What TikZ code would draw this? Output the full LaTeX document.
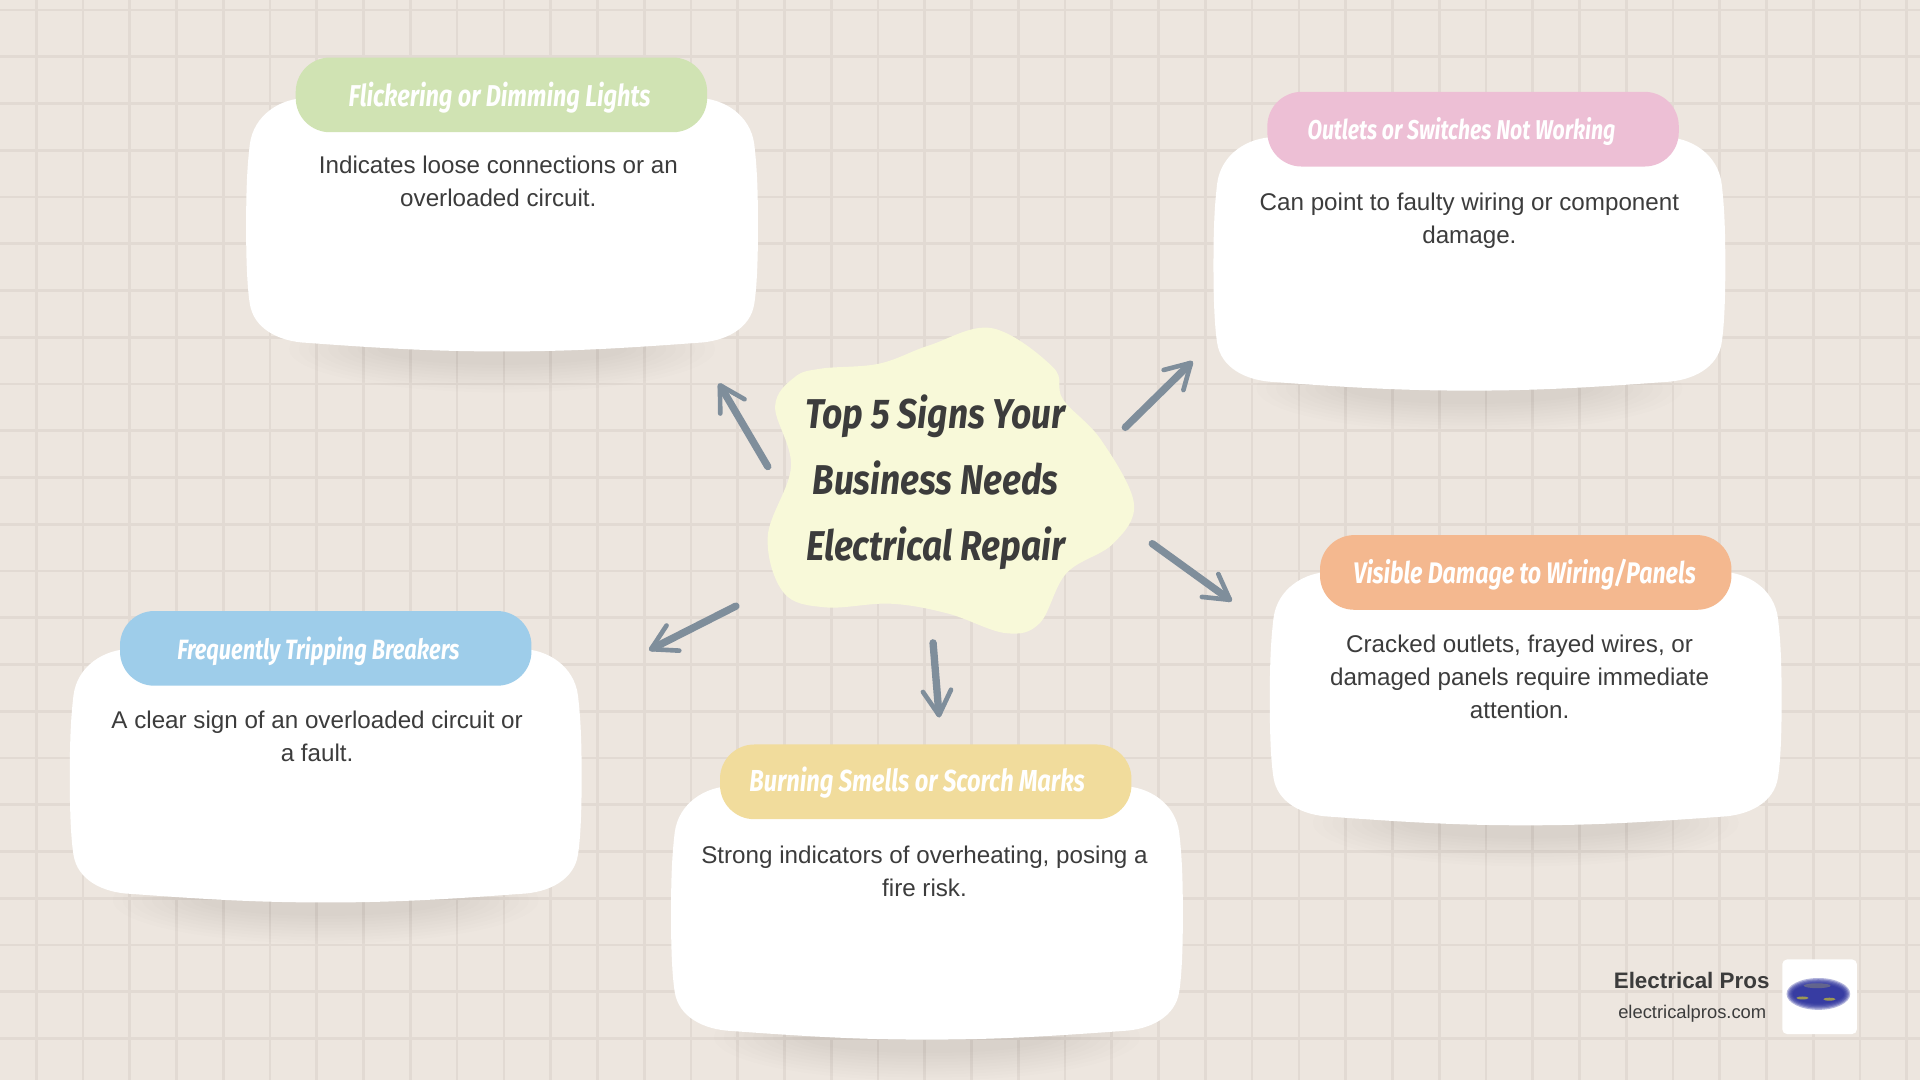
\documentclass[tikz,border=0pt]{standalone}
\usepackage{fontspec}
\usepackage{tikz}
\usetikzlibrary{arrows.meta}
\setmainfont{Liberation Sans}
\newfontfamily\brushfont{Fira Sans}[FakeStretch=0.78]
\newfontfamily\titlebrush{Fira Sans}[FakeStretch=0.85]

\definecolor{paper}{RGB}{237,230,223}
\definecolor{gridtone}{RGB}{226,218,211}
\definecolor{inktone}{RGB}{60,60,60}
\definecolor{arrowtone}{RGB}{127,142,155}
\definecolor{blobtone}{RGB}{248,249,217}
\definecolor{greenpill}{RGB}{208,227,179}
\definecolor{pinkpill}{RGB}{237,191,213}
\definecolor{orangepill}{RGB}{244,184,143}
\definecolor{yellowpill}{RGB}{241,220,156}
\definecolor{bluepill}{RGB}{158,205,234}
\definecolor{logoblue}{RGB}{40,45,155}

\tikzset{
  gridline/.style={gridtone, line width=2.2pt},
  pillbox/.style={rounded corners=28pt, minimum width=336pt, minimum height=61pt, inner sep=0pt},
  pilltext/.style={white, inner sep=0pt, font=\brushfont\bfseries\itshape\fontsize{#1}{#1}\selectfont},
  bodytext/.style={inktone, align=center, inner sep=0pt, font=\fontsize{19.75}{27}\selectfont},
  signarrow/.style={arrowtone, line width=6pt, line cap=round,
    -{Straight Barb[length=20pt, width=23pt, line width=3.8pt, round]}},
  pics/card/.style={code={
    \foreach \k in {1,...,10}
      \fill[black, opacity=0.008] (209,205) ellipse ({182-8*\k} and {38-2.5*\k});
    \fill[white] (0,105) .. controls (0,72) and (1,55) .. (3,38)
      .. controls (6,14) and (28,0) .. (50,0) -- (368,0)
      .. controls (390,0) and (412,14) .. (415,38)
      .. controls (417,55) and (418,72) .. (418,105)
      .. controls (418,135) and (417,155) .. (415,168)
      .. controls (412,188) and (392,199) .. (368,200)
      .. controls (300,205) and (260,207) .. (209,207)
      .. controls (158,207) and (118,205) .. (50,200)
      .. controls (26,199) and (6,188) .. (3,168)
      .. controls (1,155) and (0,135) .. (0,105) -- cycle;
  }}
}

\begin{document}
\begin{tikzpicture}[x=1pt, y=-1pt]
\useasboundingbox (0,0) rectangle (1568,882);
\fill[paper] (0,0) rectangle (1568,882);

% background grid
\foreach \k in {0,...,40}
  \draw[gridline] ({29.6+38.19*\k},0) -- ({29.6+38.19*\k},882);
\foreach \k in {0,...,22}
  \draw[gridline] (0,{8.1+38.18*\k}) -- (1568,{8.1+38.18*\k});

% centre
\fill[blobtone] plot[smooth cycle, tension=0.6] coordinates {(810,268) (860,300) (868,326) (899,359)
  (926,411) (909,444) (871,468) (849,509) (821,517) (774,501) (727,493) (674,496)
  (640,484) (627,438) (646,381) (633,332) (649,308) (671,301) (718,297) (759,282)};
\node[inktone, align=center, inner sep=0pt, font=\titlebrush\bfseries\itshape\fontsize{34}{54}\selectfont] (title) at (764,394)
  {Top 5 Signs Your\\Business Needs\\Electrical Repair};

% flickering
\pic at (201,80) {card};
\node[pillbox, fill=greenpill] (flickerpill) at (409.5,77.5) {};
\node[pilltext=24.6] (flickerlabel) at (408,79.5) {Flickering or Dimming Lights};
\node[bodytext] (flickerbody) at (407,148) {Indicates loose connections or an\\overloaded circuit.};

% outlets
\pic at (991,112) {card};
\node[pillbox, fill=pinkpill] (outletpill) at (1203,105.5) {};
\node[pilltext=22.2] (outletlabel) at (1193.5,107.5) {Outlets or Switches Not Working};
\node[bodytext] (outletbody) at (1200,180) {Can point to faulty wiring or component\\damage.};

% damage
\pic at (1037,467) {card};
\node[pillbox, fill=orangepill] (damagepill) at (1246,467.5) {};
\node[pilltext=24.3] (damagelabel) at (1245,469.5) {Visible Damage to Wiring/Panels};
\node[bodytext] (damagebody) at (1241,553) {Cracked outlets, frayed wires, or\\damaged panels require immediate\\attention.};

% burning
\pic at (548,642) {card};
\node[pillbox, fill=yellowpill] (burnpill) at (756,638.5) {};
\node[pilltext=24.8] (burnlabel) at (749,639.5) {Burning Smells or Scorch Marks};
\node[bodytext] (burnbody) at (755,711.5) {Strong indicators of overheating, posing a\\fire risk.};

% breakers
\pic at (57,530) {card};
\node[pillbox, fill=bluepill] (breakerpill) at (266,529.5) {};
\node[pilltext=22.8] (breakerlabel) at (260,531.5) {Frequently Tripping Breakers};
\node[bodytext] (breakerbody) at (259,601.5) {A clear sign of an overloaded circuit or\\a fault.};

% arrows
\coordinate (flickerfrom) at (627,381);
\coordinate (flickerto) at (587,313);
\coordinate (outletfrom) at (919,349);
\coordinate (outletto) at (974,295);
\coordinate (damagefrom) at (941,444);
\coordinate (damageto) at (1006,491);
\coordinate (burnfrom) at (762,525);
\coordinate (burnto) at (767,586);
\coordinate (breakerfrom) at (601,495);
\coordinate (breakerto) at (530,531);
\draw[signarrow] (flickerfrom) -- (flickerto);
\draw[signarrow] (outletfrom) -- (outletto);
\draw[signarrow] (damagefrom) -- (damageto);
\draw[signarrow] (burnfrom) -- (burnto);
\draw[signarrow] (breakerfrom) -- (breakerto);

% footer
\node[inktone, inner sep=0pt, font=\bfseries\fontsize{18.3}{22}\selectfont] (brandname) at (1381.5,801) {Electrical Pros};
\node[inktone, inner sep=0pt, font=\fontsize{15}{18}\selectfont] (brandsite) at (1382,828) {electricalpros.com};
\node[fill=white, rounded corners=4pt, minimum size=61pt, inner sep=0pt] (logobox) at (1486,814) {};
\foreach \k in {0,...,5}
  \fill[logoblue, opacity=0.35] (1485,811.7) ellipse ({21+\k} and {8+\k});
\fill[yellow!75!black, opacity=0.7] (1472,815) ellipse (5 and 1.2);
\fill[yellow!75!black, opacity=0.7] (1494,816) ellipse (5 and 1.2);
\fill[gray, opacity=0.6] (1484,805) ellipse (11 and 2);
\end{tikzpicture}
\end{document}
